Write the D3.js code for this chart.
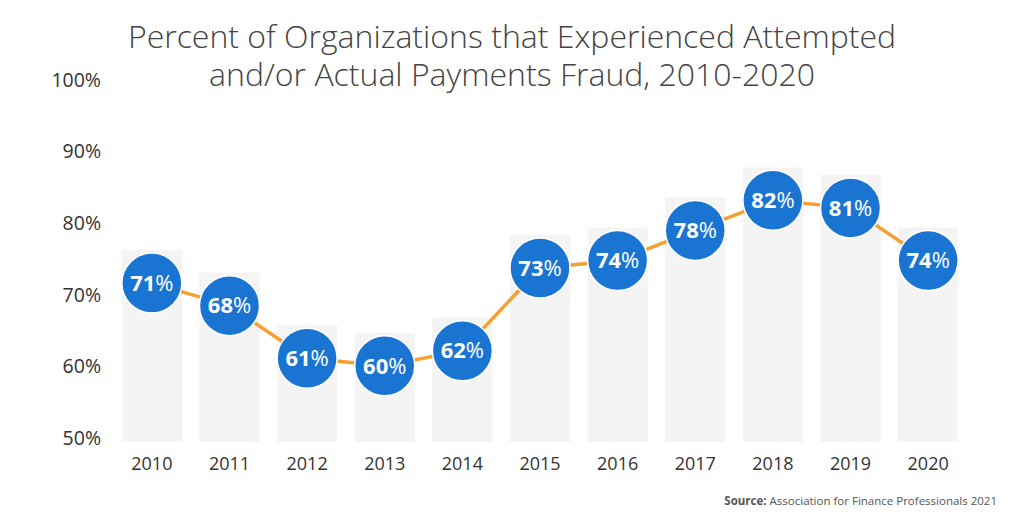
<!DOCTYPE html>
<html>
<head>
<meta charset="utf-8">
<script src="https://cdn.jsdelivr.net/npm/d3@7"></script>
<style>
  html, body { margin: 0; padding: 0; background: #fff; }
  svg { display: block; font-family: "Open Sans", sans-serif; }
</style>
</head>
<body>
<svg id="chart" width="1024" height="527"></svg>
<script>
const years = ["2010","2011","2012","2013","2014","2015","2016","2017","2018","2019","2020"];
const values = [71, 68, 61, 60, 62, 73, 74, 78, 82, 81, 74];
const tickValues = [50, 60, 70, 80, 90, 100];
const titleLines = ["Percent of Organizations that Experienced Attempted", "and/or Actual Payments Fraud, 2010-2020"];
const sourceLabel = "Source:";
const sourceText = " Association for Finance Professionals 2021";

const svg = d3.select("#chart");

const x = d3.scaleBand().domain(years).range([114, 966]).paddingInner(0.225).paddingOuter(0.1);
// marks scale
const y = d3.scaleLinear().domain([50, 100]).range([441, 65]);
// tick label scale (labels in the reference are spaced slightly tighter)
const yTick = d3.scaleLinear().domain([50, 100]).range([438, 80]);
const r = 30;
const baseY = 442;

// title
svg.append("g").selectAll("text").data(titleLines).join("text")
  .attr("x", 512).attr("y", (d, i) => 48 + i * 38)
  .attr("text-anchor", "middle")
  .attr("font-size", 32).attr("font-weight", 300)
  .attr("fill", "#444")
  .text(d => d);

// bars
svg.append("g").selectAll("rect").data(values).join("rect")
  .attr("x", (d, i) => x(years[i]))
  .attr("width", x.bandwidth())
  .attr("y", d => y(d) - r - 3)
  .attr("height", d => baseY - (y(d) - r - 3))
  .attr("fill", "#f4f4f4");

// y axis labels
const yAxis = d3.axisLeft(yTick).tickValues(tickValues).tickFormat(d => d + "%").tickSize(0).tickPadding(0);
const yg = svg.append("g").attr("transform", "translate(101,0)").call(yAxis);
yg.select(".domain").remove();
yg.selectAll("text").attr("font-size", 19.5).attr("fill", "#333").attr("font-family", "'Open Sans', sans-serif");

// x axis labels
const xAxis = d3.axisBottom(x).tickSize(0).tickPadding(0);
const xg = svg.append("g").attr("transform", "translate(0,457)").call(xAxis);
xg.select(".domain").remove();
xg.selectAll("text").attr("font-size", 18).attr("fill", "#333").attr("font-family", "'Open Sans', sans-serif");

// line
const cx = (i) => x(years[i]) + x.bandwidth() / 2;
const line = d3.line().x((d, i) => cx(i)).y(d => y(d));
svg.append("path").datum(values)
  .attr("d", line)
  .attr("fill", "none")
  .attr("stroke", "#f5a031")
  .attr("stroke-width", 3.5);

// circles
const g = svg.append("g").selectAll("g").data(values).join("g")
  .attr("transform", (d, i) => `translate(${cx(i)},${y(d)})`);
g.append("circle").attr("r", r).attr("fill", "#1a74d2").attr("stroke", "#fff").attr("stroke-width", 1.5);
const t = g.append("text")
  .attr("text-anchor", "middle")
  .attr("dy", "0.35em")
  .attr("font-size", 22)
  .attr("fill", "#fff");
t.append("tspan").attr("font-weight", 700).text(d => d);
t.append("tspan").attr("font-weight", 400).text("%");

// source
const s = svg.append("text")
  .attr("x", 997).attr("y", 505)
  .attr("text-anchor", "end")
  .attr("font-size", 11.5)
  .attr("fill", "#555");
s.append("tspan").attr("font-weight", 700).text(sourceLabel);
s.append("tspan").text(sourceText);
</script>
</body>
</html>
